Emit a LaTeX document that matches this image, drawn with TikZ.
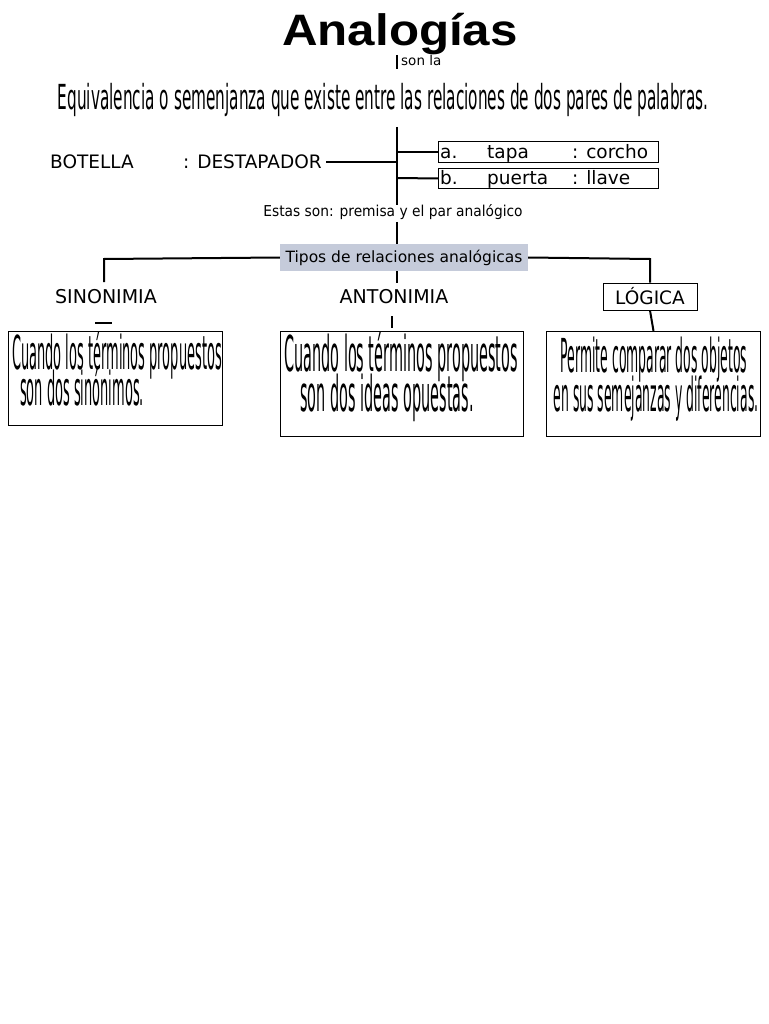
\documentclass[tikz,border=0pt]{standalone}
\usepackage{fontspec}
\setmainfont{DejaVu Sans}
\newfontfamily\titlefont{Liberation Sans}
\newcommand{\cond}[2][0.62]{\scalebox{#1}[1]{#2}}
\newcommand{\tallc}[2][0.37]{\scalebox{#1}[1.3]{#2}}
\begin{document}
\begin{tikzpicture}[x=1pt,y=-1pt,
  ln/.style={line width=2pt,black},
  thin/.style={draw,line width=1pt},
  bt/.style={anchor=base west,inner sep=0pt},
  bigt/.style={inner sep=0pt}]
\useasboundingbox (0,0) rectangle (768,1024);
\fill[white] (0,0) rectangle (768,1024);
\node (title) at (400,34) {\cond[1.12]{\titlefont\bfseries\fontsize{44}{44}\selectfont Analogías}};
\coordinate (s1) at (397,55); \coordinate (s2) at (397,69);
\draw[ln] (s1) -- (s2);
\node[bt] (sonla) at (401,66) {\fontsize{13.5}{13.5}\selectfont son la};
\node (equiv) at (383,100) {\scalebox{0.51}[1.15]{\fontsize{30}{30}\selectfont Equivalencia o semenjanza que existe entre las relaciones de dos pares de palabras.}};
\coordinate (v1) at (397,127); \coordinate (v2) at (397,205);
\draw[ln] (v1) -- (v2);
\node[bt] (bot) at (50,169) {\fontsize{18.5}{18.5}\selectfont BOTELLA};
\node[bt] (dest) at (183,169) {\fontsize{18.5}{18.5}\selectfont : DESTAPADOR};
\coordinate (j0) at (397,162);
\draw[ln] (326,162) -- (j0);
\node[thin,anchor=north west,minimum width=220,minimum height=21,inner sep=0pt] (a) at (438,141) {};
\node[thin,anchor=north west,minimum width=220,minimum height=20,inner sep=0pt] (b) at (438,168) {};
\node[bt] at (440,159) {\fontsize{18.5}{18.5}\selectfont a.};
\node[bt] at (487,159) {\fontsize{18.5}{18.5}\selectfont tapa};
\node[bt] at (572,159) {\fontsize{18.5}{18.5}\selectfont : corcho};
\node[bt] at (440,185) {\fontsize{18.5}{18.5}\selectfont b.};
\node[bt] at (487,185) {\fontsize{18.5}{18.5}\selectfont puerta};
\node[bt] at (572,185) {\fontsize{18.5}{18.5}\selectfont : llave};
\draw[ln] (397,152) -- (a.west);
\draw[ln] (397,178) -- (b.west);
\node (estas) at (393,212) {\cond[0.92]{\fontsize{15}{15}\selectfont Estas son: premisa y el par analógico}};
\node[fill={rgb,255:red,197;green,203;blue,218},minimum width=248,minimum height=27,inner sep=0pt] (tipos) at (404,257.5) {\fontsize{15.5}{15.5}\selectfont Tipos de relaciones analógicas};
\draw[ln] (397,222) -- (397,244);
\node (sino) at (106,297) {\fontsize{19}{19}\selectfont SINONIMIA};
\node (anto) at (394,297) {\fontsize{19}{19}\selectfont ANTONIMIA};
\node[thin,minimum width=94,minimum height=27,inner sep=0pt] (logi) at (650,296.5) {\fontsize{18.5}{18.5}\selectfont LÓGICA};
\draw[ln] (tipos.west) -- (104,259) -- (104,282);
\draw[ln] (tipos.east) -- (650,259) -- (logi.north);
\draw[ln] (397,271) -- (397,283);
\draw[ln] (95,323) -- (112,323);
\draw[ln] (392,316) -- (392,328);
\node[thin,anchor=north west,minimum width=214,minimum height=94,inner sep=0pt] (b1) at (8,331) {};
\node[thin,anchor=north west,minimum width=243,minimum height=105,inner sep=0pt] (b2) at (280,331) {};
\node[thin,anchor=north west,minimum width=214,minimum height=105,inner sep=0pt] (b3) at (546,331) {};
\draw[ln] (logi.south) -- (b3.north);
\node[bt] at (12,369) {\tallc[0.36]{\fontsize{36}{36}\selectfont Cuando los términos propuestos}};
\node[bt] at (20,405) {\tallc[0.36]{\fontsize{36}{36}\selectfont son dos sinónimos.}};
\node[bt] at (284,371) {\tallc[0.38]{\fontsize{38}{38}\selectfont Cuando los términos propuestos}};
\node[bt] at (300,411) {\tallc[0.38]{\fontsize{38}{38}\selectfont son dos ideas opuestas.}};
\node[anchor=base,inner sep=0pt] at (654,372) {\tallc[0.345]{\fontsize{36}{36}\selectfont Permite comparar dos objetos}};
\node[anchor=base,inner sep=0pt] at (656,411) {\tallc[0.345]{\fontsize{36}{36}\selectfont en sus semejanzas y diferencias.}};
\end{tikzpicture}
\end{document}
